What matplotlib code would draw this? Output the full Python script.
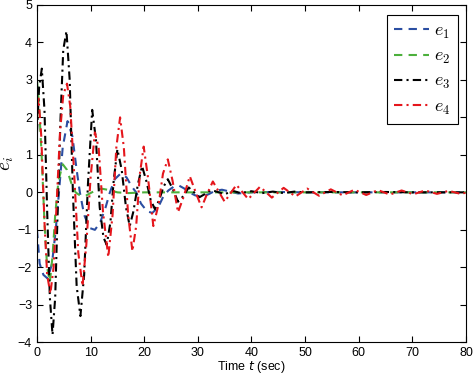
import matplotlib
matplotlib.use("Agg")
import matplotlib.pyplot as plt

plt.rcParams["font.family"] = ["Liberation Sans", "DejaVu Sans"]
plt.rcParams["mathtext.fontset"] = "cm"

# e1 (blue)
t1 = [0, 0.5, 1.2, 2.0, 2.8, 3.5, 4.1, 4.8, 5.7, 6.6, 7.4, 8.0, 8.8, 9.8, 10.8, 11.8,
      12.8, 13.6, 14.5, 15.6, 16.7, 17.7, 18.5, 19.4, 20.5, 21.5, 22.6, 23.6, 24.5,
      25.5, 26.5, 27.5, 28.4, 29.5, 30.7, 32, 33.2, 34.5, 36, 37.5, 40, 45, 50, 60, 70, 80]
e1 = [-1.0, -1.9, -2.2, -2.3, -1.9, -1.0, 0.0, 1.2, 1.9, 1.5, 0.6, 0.0, -0.6, -0.95,
      -1.0, -0.8, -0.4, 0.0, 0.35, 0.5, 0.4, 0.15, 0.0, -0.3, -0.5, -0.55, -0.4, -0.1,
      0.05, 0.15, 0.18, 0.1, 0.0, -0.08, -0.12, -0.05, 0.04, 0.07, 0.02, -0.03, 0.0,
      0.01, 0.0, 0.0, 0.0, 0.0]

# e2 (green)
t2 = [0, 0.4, 0.9, 1.4, 1.9, 2.4, 2.9, 3.4, 4.0, 4.8, 5.6, 6.4, 7.2, 8.2, 9.2, 10.5,
      12, 13.5, 15, 17, 20, 25, 30, 40, 50, 60, 70, 80]
e2 = [3.0, 2.3, 0.9, -0.8, -2.0, -2.4, -1.7, -0.6, 0.3, 0.75, 0.6, 0.25, 0.0, -0.1,
      -0.08, 0.02, 0.1, 0.06, 0.0, -0.02, 0.0, 0.0, 0.0, 0.0, 0.0, 0.0, 0.0, 0.0]

# e3 (black)
t3 = [0, 0.4, 0.9, 1.4, 1.9, 2.4, 2.9, 3.4, 3.9, 4.4, 4.9, 5.5, 6.1, 6.7, 7.4, 8.1,
      8.8, 9.5, 10.3, 11.0, 11.7, 12.4, 13.0, 13.7, 14.3, 15.0, 15.8, 16.6, 17.3, 18.0,
      18.8, 19.6, 20.4, 21.2, 22.0, 22.8, 23.6, 24.4, 25.3, 26.3, 27.3, 28.3, 29.3,
      30.3, 31.5, 32.5, 33.5, 35, 36.5, 38, 40, 42, 44, 46, 48, 50, 55, 60, 65, 70, 75, 80]
e3 = [1.6, 2.8, 3.3, 2.2, -0.5, -2.8, -3.8, -2.8, -0.3, 2.0, 3.8, 4.3, 3.0, 0.0, -2.5,
      -3.3, -2.2, 0.2, 2.2, 1.4, -0.4, -1.2, -1.4, -0.8, 0.3, 1.15, 0.6, -0.4, -0.9,
      -0.5, 0.2, 0.7, 0.3, -0.2, -0.45, -0.2, 0.15, 0.35, 0.1, -0.25, -0.1, 0.13, 0.0,
      -0.13, -0.03, 0.06, 0.02, -0.05, 0.04, -0.02, 0.03, -0.02, 0.02, -0.02, 0.02,
      0.0, 0.01, 0.0, 0.01, 0.0, 0.0, 0.0]

# e4 (red)
t4 = [0, 0.3, 0.8, 1.4, 1.9, 2.5, 3.1, 3.7, 4.3, 4.9, 5.6, 6.2, 6.9, 7.7, 8.5, 9.2,
      10.0, 10.8, 11.5, 12.3, 13.3, 14.1, 14.8, 15.5, 16.2, 17.0, 17.8, 18.5, 19.2,
      19.9, 20.7, 21.7, 22.7, 23.5, 24.4, 25.3, 26.3, 27.4, 28.5, 29.6, 30.7, 31.7,
      32.8, 35.0, 37.2, 39.4, 41.6, 43.8, 46, 48.2, 50.4, 52.6, 54.8, 57, 59.2, 61.4,
      63.6, 65.8, 68, 70.2, 72.4, 74.6, 76.8, 79, 80]
e4 = [2.3, 2.5, 1.5, -0.8, -2.2, -2.7, -2.0, -0.2, 1.6, 2.6, 2.9, 2.3, 0.6, -1.6,
      -2.5, -1.4, 0.4, 1.6, 1.2, -0.5, -1.73, -0.6, 1.2, 2.0, 1.2, -0.6, -1.57, -0.9,
      0.5, 1.22, 0.4, -0.9, -0.3, 0.5, 0.88, 0.3, -0.53, -0.1, 0.43, 0.0, -0.4, -0.05,
      0.29, -0.25, 0.2, -0.18, 0.15, -0.14, 0.12, -0.11, 0.1, -0.09, 0.08, -0.08, 0.07,
      -0.07, 0.06, -0.06, 0.05, -0.05, 0.05, -0.04, 0.04, -0.04, -0.01]

fig = plt.figure(figsize=(4.74, 3.77), dpi=100)
ax = fig.add_axes([0.078, 0.092, 0.905, 0.895])

ax.plot(t1, e1, color="#2b4ea2", lw=1.5, dashes=(4, 3), label=r"$e_1$")
ax.plot(t2, e2, color="#4cb03c", lw=1.5, dashes=(4, 3), label=r"$e_2$")
ax.plot(t3, e3, color="black", lw=1.5, dashes=(4, 2, 1, 2), label=r"$e_3$")
ax.plot(t4, e4, color="#e5161c", lw=1.5, dashes=(4, 2, 1, 2), label=r"$e_4$")

ax.set_xlim(0, 80)
ax.set_ylim(-4, 5)
ax.set_xticks(range(0, 81, 10))
ax.set_yticks(range(-4, 6))
ax.tick_params(direction="in", top=True, right=True, labelsize=9, length=4)
ax.set_xlabel(r"Time $t$ (sec)", fontsize=9, math_fontfamily="dejavusans", labelpad=0)
ax.set_ylabel(r"$e_i$", fontsize=14)
ax.yaxis.set_label_coords(-0.05, 0.53)

leg = ax.legend(loc="upper right", fontsize=13, handlelength=1.9, handletextpad=0.3,
                fancybox=False, edgecolor="black", framealpha=1, borderpad=0.4,
                labelspacing=0.4, borderaxespad=0.3, bbox_to_anchor=(0.993, 0.985))
leg.get_frame().set_linewidth(0.8)

fig.savefig("out.png", dpi=100)
